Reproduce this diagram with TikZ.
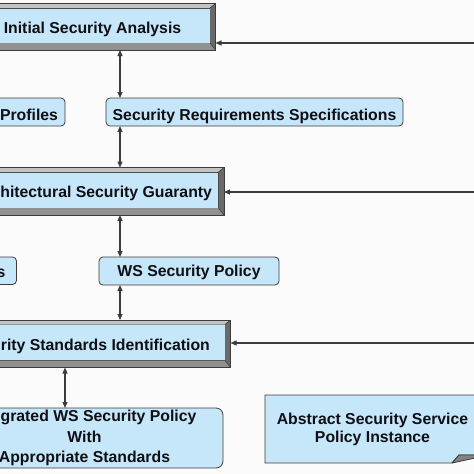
\documentclass[tikz,border=0pt]{standalone}
\usepackage{fontspec}
\setmainfont{Liberation Sans}
\usetikzlibrary{arrows.meta,calc,backgrounds}
\definecolor{boxblue}{RGB}{198,230,250}
\definecolor{edge}{RGB}{60,60,60}
\definecolor{bvtop}{RGB}{195,195,195}
\definecolor{bvright}{RGB}{105,105,105}
\definecolor{bvbot}{RGB}{145,145,145}
\definecolor{bgc}{RGB}{251,251,251}
\definecolor{foldgrey}{RGB}{130,130,130}
\definecolor{txt}{RGB}{15,15,20}
\newcommand\bevelbox[1]{%
 \fill[bvtop] ([yshift=4.5pt]#1.north west) -- ([xshift=5.5pt,yshift=4.5pt]#1.north east) -- (#1.north east) -- (#1.north west) -- cycle;
 \fill[bvright] (#1.north east) -- ([xshift=5.5pt,yshift=4.5pt]#1.north east) -- ([xshift=5.5pt,yshift=-7pt]#1.south east) -- (#1.south east) -- cycle;
 \fill[bvbot] (#1.south west) -- (#1.south east) -- ([xshift=5.5pt,yshift=-7pt]#1.south east) -- ([yshift=-7pt]#1.south west) -- cycle;
 \draw[edge,line width=0.8pt] ([yshift=4.5pt]#1.north west) -- ([xshift=5.5pt,yshift=4.5pt]#1.north east) -- ([xshift=5.5pt,yshift=-7pt]#1.south east) -- ([yshift=-7pt]#1.south west);
 \draw[edge,line width=0.6pt] (#1.north east) -- ([xshift=5.5pt,yshift=4.5pt]#1.north east) (#1.south east) -- ([xshift=5.5pt,yshift=-7pt]#1.south east);
}
\tikzset{
  every node/.style={font=\fontsize{15.8}{19}\selectfont\bfseries, text=txt},
  face/.style={draw=edge, fill=boxblue, line width=0.8pt, inner sep=0pt, outer sep=0pt, text depth=0pt},
  rbox/.style={draw=edge, fill=boxblue, line width=0.8pt, rounded corners=4pt, inner sep=0pt, outer sep=0pt},
  one/.style={text depth=0pt},
  tip/.tip={Triangle[length=6pt,width=5pt]},
  arr/.style={draw=edge, line width=1.2pt, tip-tip},
  arrL/.style={draw=edge, line width=1.2pt, -tip},
}
\begin{document}
\begin{tikzpicture}[x=1pt,y=-1pt]
\useasboundingbox (0,0) rectangle (474,474);
\begin{scope}[on background layer]
\fill[bgc] (0,0) rectangle (474,474);
\end{scope}
\coordinate (ax) at (120,0);
\coordinate (bx) at (65,0);
% bevelled boxes
\node[face, minimum width=235pt, minimum height=35pt, text height=15pt] (isa) at (92.5,25.5) {Initial Security Analysis};
\bevelbox{isa}
\node[face, minimum width=251pt, minimum height=36pt, text height=14pt] (asg) at (93,190) {Architectural Security Guaranty};
\bevelbox{asg}
\node[face, minimum width=277pt, minimum height=36pt, text height=15pt] (ssi) at (86.5,342.5) {Security Standards Identification};
\bevelbox{ssi}
% rounded boxes
\node[rbox, one, anchor=east, minimum height=28pt, text height=16pt, text width=100pt, align=right, inner xsep=7pt] (prof) at (65,112) {Profiles};
\node[rbox, one, minimum width=297pt, minimum height=28pt, text height=16pt] (srs) at (254.5,112) {Security Requirements Specifications};
\node[rbox, one, anchor=east, minimum height=27.5pt, text height=12.5pt, text width=60pt, align=right, inner xsep=11pt] (prs) at (16.5,270.75) {s};
\node[rbox, one, minimum width=180pt, minimum height=28pt, text height=10pt] (wsp) at (189,271) {WS Security Policy};
\node[rbox, rounded corners=7pt, minimum width=277pt, minimum height=60pt, align=center, font=\fontsize{15.8}{20.5}\selectfont\bfseries] (iwp) at (84.5,438) {Integrated WS Security Policy\\With\\Appropriate Standards};
% note
\node[inner sep=0pt, outer sep=0pt, minimum width=215pt, minimum height=68pt, align=center, font=\fontsize{15.8}{18}\selectfont\bfseries] (note) at (372.5,429) {Abstract Security Service\\Policy Instance};
\begin{scope}[on background layer]
\filldraw[fill=boxblue, draw=edge, line width=0.8pt] (note.north west) -- (note.north east) -- ($(note.south east)+(0,-8)$) -- ($(note.south east)+(-21,-8)$) -- ($(note.south east)+(-28,0)$) -- (note.south west) -- cycle;
\filldraw[fill=foldgrey, draw=edge, line width=0.8pt, line join=round] ($(note.south east)+(-28,0)$) -- ($(note.south east)+(-21,-8)$) -- ($(note.south east)+(0,-8)$) -- ($(note.south east)+(0,-6)$) -- cycle;
\end{scope}
% vertical connectors
\draw[arr] ($(isa.south -| ax)+(0,7)$) -- (srs.north -| ax);
\draw[arr] (srs.south -| ax) -- ($(asg.north -| ax)+(0,-4.5)$);
\draw[arr] ($(asg.south -| ax)+(0,7)$) -- (wsp.north -| ax);
\draw[arr] (wsp.south -| ax) -- ($(ssi.north -| ax)+(0,-4.5)$);
\draw[arr] ($(ssi.south -| bx)+(0,7)$) -- (iwp.north -| bx);
% incoming from the right
\coordinate (r1) at (480,43);
\coordinate (r3) at (480,192);
\coordinate (r5) at (480,343);
\draw[arrL] (r1) -- ($(r1 -| isa.east)+(5.5,0)$);
\draw[arrL] (r3) -- ($(r3 -| asg.east)+(5.5,0)$);
\draw[arrL] (r5) -- ($(r5 -| ssi.east)+(5.5,0)$);
\end{tikzpicture}
\end{document}
